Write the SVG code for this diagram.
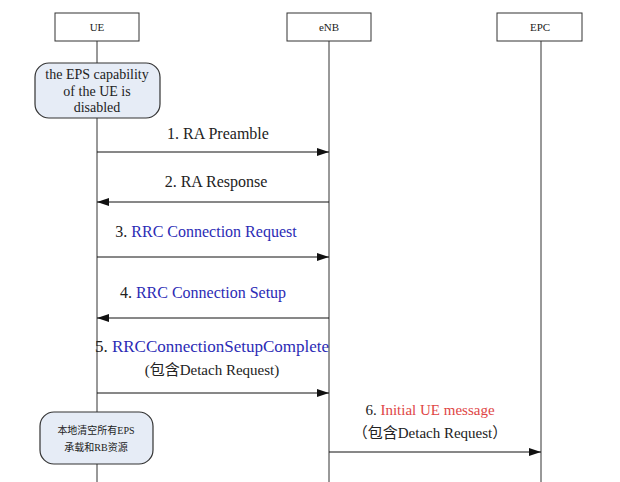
<svg xmlns="http://www.w3.org/2000/svg" width="620" height="482" viewBox="0 0 620 482">
<defs>
<style>
.box{fill:#fff;stroke:#333;stroke-width:1}
.note{fill:#e6ecf6;stroke:#333;stroke-width:1.2}
.ll{stroke:#333;stroke-width:1;fill:none}
.msg{stroke:#111;stroke-width:1;fill:none;marker-end:url(#ah)}
text{font-family:"Liberation Serif","Noto Sans CJK SC",serif;fill:#222}
.b{fill:#2b2bb5}
.r{fill:#e04545}
</style>
<marker id="ah" markerWidth="12" markerHeight="8" refX="12" refY="4" orient="auto" markerUnits="userSpaceOnUse">
<path d="M0,0 L12,4 L0,8 z" fill="#111"/>
</marker>
</defs>
<rect x="0" y="0" width="620" height="482" fill="#fff"/>
<g id="lifelines">
<line class="ll" x1="97" y1="41" x2="97" y2="63"/>
<line class="ll" x1="97" y1="118" x2="97" y2="412"/>
<line class="ll" x1="97" y1="464" x2="97" y2="482"/>
<line class="ll" x1="329" y1="41" x2="329" y2="482"/>
<line class="ll" x1="541" y1="41" x2="541" y2="482"/>
</g>
<g id="UE"><rect class="box" x="55" y="13" width="84" height="28"/><text x="97" y="31" font-size="11" text-anchor="middle">UE</text></g>
<g id="eNB"><rect class="box" x="287" y="13" width="84" height="28"/><text x="329" y="31" font-size="11" text-anchor="middle">eNB</text></g>
<g id="EPC"><rect class="box" x="497" y="13" width="85" height="28"/><text x="540" y="31" font-size="11" text-anchor="middle">EPC</text></g>
<g id="note1"><rect class="note" x="35" y="63" width="125" height="55" rx="14"/>
<text font-size="14" text-anchor="middle"><tspan x="97" y="79">the EPS capability</tspan><tspan x="97" y="96">of the UE is</tspan><tspan x="97" y="112">disabled</tspan></text></g>
<g id="note2"><rect class="note" x="40" y="412" width="113" height="52" rx="14"/>
<text font-size="10" text-anchor="middle"><tspan x="96" y="434">本地清空所有EPS</tspan><tspan x="96" y="451">承载和RB资源</tspan></text></g>
<g id="connectors">
<line class="msg" x1="97" y1="152" x2="329" y2="152"/>
<line class="msg" x1="329" y1="202" x2="97" y2="202"/>
<line class="msg" x1="97" y1="257" x2="329" y2="257"/>
<line class="msg" x1="329" y1="318" x2="97" y2="318"/>
<line class="msg" x1="97" y1="393" x2="329" y2="393"/>
<line class="msg" x1="329" y1="452" x2="541" y2="452"/>
</g>
<g id="labels">
<text x="218" y="139" text-anchor="middle" font-size="16">1. RA Preamble</text>
<text x="216" y="187" text-anchor="middle" font-size="16">2. RA Response</text>
<text x="206" y="237" text-anchor="middle" font-size="16">3. <tspan class="b">RRC Connection Request</tspan></text>
<text x="203" y="298" text-anchor="middle" font-size="16">4. <tspan class="b">RRC Connection Setup</tspan></text>
<text x="212" y="352" text-anchor="middle" font-size="17">5. <tspan class="b">RRCConnectionSetupComplete</tspan></text>
<text x="212" y="375" text-anchor="middle" font-size="15">(包含Detach Request)</text>
<text x="430" y="415" text-anchor="middle" font-size="15">6. <tspan class="r">Initial UE message</tspan></text>
<text x="430" y="438" text-anchor="middle" font-size="15">（包含Detach  Request）</text>
</g>
</svg>
